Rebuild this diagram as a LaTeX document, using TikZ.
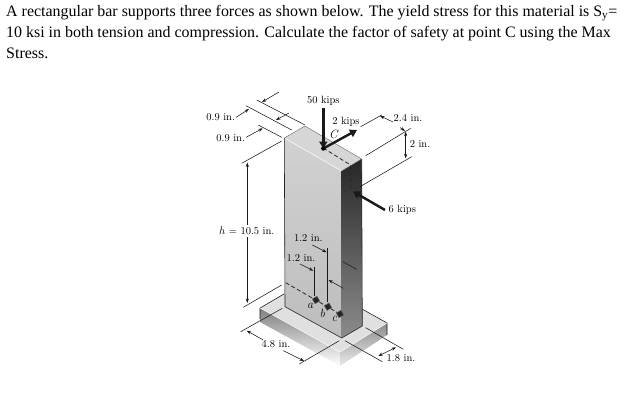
\documentclass[tikz,border=0pt]{standalone}
\usepackage{fontspec}
\setmainfont{Liberation Serif}
\newfontfamily\lm{Latin Modern Roman}
\usetikzlibrary{arrows.meta}
\tikzset{
  para/.style={anchor=base west,inner sep=0pt,font=\fontsize{15.95}{18}\selectfont},
  lab/.style={inner sep=0pt,font=\lm\fontsize{10.5}{12}\selectfont},
  labi/.style={inner sep=0pt,font=\lm\itshape\fontsize{12}{13}\selectfont},
  thin line/.style={draw=black!90,line width=0.55pt},
  dim/.style={thin line,-{Stealth[length=4.5pt,width=3.2pt]}},
  dimb/.style={thin line,{Stealth[length=4.5pt,width=3.2pt]}-{Stealth[length=4.5pt,width=3.2pt]}},
  force/.style={draw=black!90,line width=2.4pt,-{Triangle[length=7pt,width=8pt]}},
  gage/.style={fill=black!85,draw=black!60,line width=0.4pt,minimum size=5.5pt,inner sep=0pt},
  dash line/.style={draw=black!85,line width=0.8pt,dash pattern=on 4pt off 2.5pt}
}
\begin{document}
\begin{tikzpicture}[x=1pt,y=-1pt]
\useasboundingbox (0,0) rectangle (633,400);
% question text
\node[para] (t1) at (6,16) {A rectangular bar supports three forces as shown below. The yield stress for this material is S\textsubscript{y}=};
\node[para] (t2) at (6,37.3) {10 ksi in both tension and compression. Calculate the factor of safety at point C using the Max};
\node[para] (t3) at (6,58.3) {Stress.};
% base
\path[fill=black!12] (260,308) -- (307,279) -- (387,323) -- (340,352) -- cycle;
\shade[top color=black!50,bottom color=white,draw=none] (260,308) -- (340,352) -- (340,366) -- (260,322) -- cycle;
\shade[top color=black!45,bottom color=black!8,draw=none] (340,352) -- (387,323) -- (387,335) -- (340,366) -- cycle;
\draw[thin line] (260,319) -- (260,308) -- (284,294);
\draw[thin line] (362,309) -- (387,323) -- (387,335);
\draw[draw=white,line width=0.5pt] (260,308) -- (340,352) -- (387,323);
% bar
\path[fill=black!16] (305,126) -- (361.7,159) -- (341.7,171) -- (284.3,138) -- cycle;
\shade[top color=black!18,middle color=black!42,bottom color=black!26] (284.3,138) -- (341.7,171) -- (341.7,338) -- (285,306.7) -- cycle;
\shade[top color=black!85,middle color=black!65,bottom color=black!45] (341.7,171) -- (361.7,159) -- (362.3,326) -- (341.7,338) -- cycle;
\draw[draw=white,line width=0.5pt] (284.3,138) -- (341.7,171);
\draw[draw=black!85,line width=0.6pt] (284.3,138) -- (285,306.7) -- (341.7,338) -- (362.3,326) -- (361.7,159);
\draw[draw=black!60,line width=0.4pt] (284.3,138) -- (305,126) -- (361.7,159) -- (341.7,171);
% dashed section lines
\draw[dash line] (323.3,148) -- (350.5,165) -- (350.7,190);
\draw[dash line] (285.7,282.7) -- (341.7,315);
% top dimensions
\draw[thin line] (246,105.7) -- (291.7,130);
\draw[thin line] (256.7,100) -- (305,125);
\draw[thin line] (258.3,125) -- (281.7,137.3);
\draw[thin line] (241.7,163.3) -- (281.7,141);
\draw[dim] (279,92) -- (262,102);
\draw[dim] (289,113) -- (276,120);
\node[lab] (d1) at (220.7,117.3) {0.9 in.};
\coordinate (d1e) at (249,109);
\draw[dim] (d1.east) ++(1,0) -- (d1e);
\node[lab] (d2) at (230.7,138.3) {0.9 in.};
\coordinate (d2e) at (262.7,128.3);
\draw[dim] (d2.east) ++(1,-1) -- (d2e);
% h dimension
\node[lab] (h) at (246.7,230.7) {$h$ = 10.5 in.};
\coordinate (ht) at (247.3,162.5);
\coordinate (hb) at (247.3,303);
\draw[dim] (247.3,225) -- (ht);
\draw[dim] (247.3,237.3) -- (hb);
\draw[thin line] (243.3,307.3) -- (281.7,285);
% forces
\node[lab] (f50) at (323.3,100.7) {50 kips};
\coordinate (C) at (323.3,148.5);
\draw[force] (323.3,108.3) -- (C);
\node[lab] (f2) at (346,121.7) {2 kips};
\coordinate (f2e) at (357,130);
\draw[force] (C) -- (f2e);
\fill[black] (C) circle (2.2pt);
\node[labi] (ptC) at (333.3,134.3) {C};
\node[lab] (f6) at (402.3,210) {6 kips};
\coordinate (f6s) at (385,210);
\coordinate (f6e) at (353,191.5);
\draw[force] (f6s) -- (f6e);
% right dimensions
\draw[thin line] (360.7,126.7) -- (381.7,115);
\draw[thin line] (365.7,155.7) -- (410.7,128.3);
\draw[thin line] (360,186.7) -- (411.7,156.7);
\node[lab] (d24) at (408,117.7) {2.4 in.};
\draw[dim] (393,122) -- (380,115.8);
\draw[dim] (400,127.5) -- (405,131);
\node[lab] (d20) at (420,144.3) {2 in.};
\draw[dimb] (405.7,131.7) -- (405.7,158.3);
% lower dimensions
\node[lab] (u12) at (308.3,238.3) {1.2 in.};
\node[lab] (l12) at (301,257.7) {1.2 in.};
\draw[thin line] (327.7,248.3) -- (327.7,301.7);
\draw[thin line] (314.7,266.7) -- (314.7,296);
\draw[dim] (312.3,245) -- (326.7,252.3);
\draw[dim] (300,264) -- (313.3,270.7);
\draw[dim] (343.3,288.3) -- (328.5,280);
\draw[thin line] (342.7,261.7) -- (356.7,269.3);
\node[gage,rotate=30] (ga) at (316,300) {};
\node[gage,rotate=30] (gb) at (328,306.7) {};
\node[gage,rotate=30] (gc) at (340,314) {};
\node[labi] (la) at (310,306) {a};
\node[labi] (lb) at (322.3,313.3) {b};
\node[labi] (lc) at (334.3,319) {c};
% base dimensions
\draw[thin line] (240.7,331.7) -- (282.3,308.3);
\draw[thin line] (299.3,364) -- (339.3,340.7);
\node[lab] (d48) at (276,344.3) {4.8 in.};
\draw[dim] (263.3,340) -- (246.7,330.7);
\draw[dim] (283.3,350.7) -- (304,361);
\draw[thin line] (345,340.7) -- (382.3,361.7);
\draw[thin line] (365.7,327.7) -- (403.3,349.3);
\node[lab] (d18) at (401,358.3) {1.8 in.};
\draw[dimb] (378.3,356) -- (396,347.3);
\end{tikzpicture}
\end{document}
